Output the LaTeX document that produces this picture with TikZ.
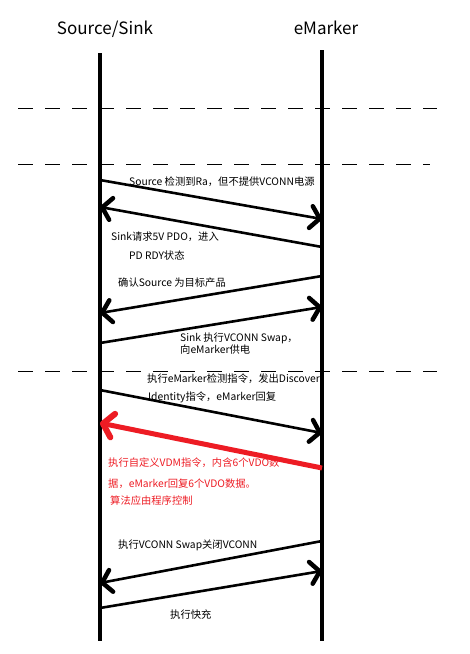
\documentclass[tikz,border=0pt]{standalone}
\usepackage{fontspec}
\setmainfont{Noto Sans CJK SC}
\usetikzlibrary{arrows.meta}
\definecolor{paintred}{RGB}{237,28,36}

\begin{document}
\begin{tikzpicture}[x=1pt,y=-1pt,
    lifeline/.style={line width=4.5pt},
    sepline/.style={line width=0.8pt,dash pattern=on 15pt off 12pt},
    msg/.style={line width=2.6pt,-{Straight Barb[length=9pt,width=22pt,line width=4.5pt,round]}},
    redmsg/.style={line width=5pt,draw=paintred,-{Straight Barb[length=10pt,width=24pt,line width=6pt,round]}},
    lbl/.style={font=\fontsize{10.3}{11}\selectfont,anchor=west,inner sep=0pt,align=left},
    title/.style={font=\fontsize{17}{20}\selectfont}]
\useasboundingbox (0,0) rectangle (470,654);
\node[title] (src) at (105,29) {Source/Sink};
\node[title] (emk) at (326,28) {eMarker};
\coordinate (srcTop) at (100,53);
\coordinate (srcBot) at (100,641);
\coordinate (emkTop) at (322,50);
\coordinate (emkBot) at (322,641);
\draw[lifeline] (srcTop) -- (srcBot);
\draw[lifeline] (emkTop) -- (emkBot);
\foreach \y/\xr in {108/437,164/430,371/437}
    \draw[sepline] (18,\y) -- (\xr,\y);
\coordinate (s1) at (100,180);   \coordinate (e1) at (322,219);
\coordinate (s2) at (100,207);   \coordinate (e2) at (322,247);
\coordinate (s3) at (100,313);   \coordinate (e3) at (322,276);
\coordinate (s4) at (100,343);   \coordinate (e4) at (322,307);
\coordinate (s5) at (100,390);   \coordinate (e5) at (322,433);
\coordinate (s6) at (100,423);   \coordinate (e6) at (322,468);
\coordinate (s7) at (100,583);   \coordinate (e7) at (322,541);
\coordinate (s8) at (100,608);   \coordinate (e8) at (322,571);
\draw[msg] (s1) -- (e1);
\draw[msg] (e2) -- (s2);
\draw[msg] (e3) -- (s3);
\draw[msg] (s4) -- (e4);
\draw[msg] (s5) -- (e5);
\draw[redmsg] (e6) -- (s6);
\draw[msg] (e7) -- (s7);
\draw[msg] (s8) -- (e8);
\node[lbl] (ra) at (129,182) {Source 检测到Ra，但不提供VCONN电源};
\node[lbl] (pdo) at (111,237) {Sink请求5V PDO，进入};
\node[lbl] (rdy) at (129,256) {PD RDY状态};
\node[lbl] (chk) at (118,283) {确认Source 为目标产品};
\node[lbl] (swap) at (180,344) {Sink 执行VCONN Swap，\\向eMarker供电};
\node[lbl] (disc) at (147,379) {执行eMarker检测指令，发出Discover};
\node[lbl] (idn) at (148,397) {Identity指令，eMarker回复};
\node[lbl,text=paintred] (vdm) at (108,463) {执行自定义VDM指令，内含6个VDO数};
\node[lbl,text=paintred] (vdo) at (108,484) {据，eMarker回复6个VDO数据。};
\node[lbl,text=paintred] (alg) at (110,501) {算法应由程序控制};
\node[lbl] (off) at (118,545) {执行VCONN Swap关闭VCONN};
\node[lbl] (fast) at (170,615) {执行快充};
\end{tikzpicture}
\end{document}
